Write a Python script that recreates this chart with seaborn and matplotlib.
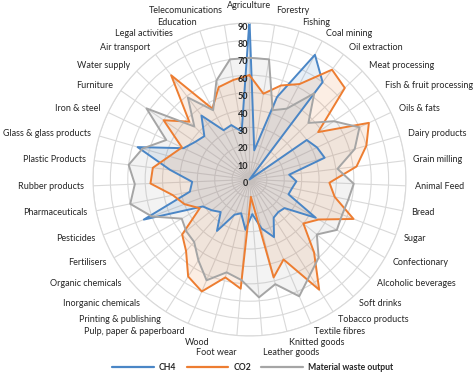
import numpy as np
import matplotlib
matplotlib.use("Agg")
import matplotlib.pyplot as plt
import matplotlib.transforms as mtransforms
import pandas as pd
import seaborn as sns
from matplotlib.lines import Line2D

categories = [
    "Agriculture", "Forestry", "Fishing", "Coal mining", "Oil extraction",
    "Meat processing", "Fish & fruit processing", "Oils & fats", "Dairy products",
    "Grain milling", "Animal Feed", "Bread", "Sugar", "Confectionary",
    "Alcoholic beverages", "Soft drinks", "Tobacco products", "Textile fibres",
    "Knitted goods", "Leather goods", "Foot wear", "Wood", "Pulp, paper & paperboard",
    "Printing & publishing", "Inorganic chemicals", "Organic chemicals", "Fertilisers",
    "Pesticides", "Pharmaceuticals", "Rubber products", "Plastic Products",
    "Glass & glass products", "Iron & steel", "Furniture", "Water supply",
    "Air transport", "Legal activities", "Education", "Telecomunications",
]

ch4 = [92, 17, 50, 81, 70, 0, 40, 43, 45, 23, 27, 25, 24, 44, 26, 25, 26, 36, 29,
       20, 29, 20, 22, 35, 25, 28, 31, 65, 35, 33, 46, 67, 42, 38, 36, 46, 32, 33, 28]
co2 = [60, 50, 57, 62, 79, 76, 48, 76, 70, 62, 46, 50, 64, 46, 40, 56, 75, 50, 58,
       10, 63, 58, 70, 66, 55, 50, 33, 40, 45, 57, 56, 48, 43, 60, 48, 75, 46, 56, 58]
waste = [70, 70, 42, 46, 62, 47, 59, 70, 63, 51, 60, 58, 57, 58, 50, 60, 65, 73, 62,
         68, 58, 55, 63, 55, 48, 47, 45, 60, 70, 66, 70, 64, 53, 72, 44, 59, 45, 60, 70]
ticks = [0, 10, 20, 30, 40, 50, 60, 70, 80, 90]

series = [("CH4", ch4, "#4a86c6"), ("CO2", co2, "#ed7d31"),
          ("Material waste output", waste, "#a5a5a5")]

sns.set_theme(style="white")
plt.rcParams["font.family"] = ["Lato", "DejaVu Sans"]

fig = plt.figure(figsize=(4.74, 3.73), dpi=100)
ax = fig.add_axes([0.1962, 0.0992, 0.6603, 0.8391], projection="polar")
ax.set_theta_zero_location("N")
ax.set_theta_direction(-1)

n = len(categories)
angles = np.arange(n) * 2 * np.pi / n

for name, vals, color in series:
    df = pd.DataFrame({"theta": np.append(angles, angles[0]),
                       "r": np.append(vals, vals[0])})
    ax.fill(df["theta"], df["r"], color=color, alpha=0.13, lw=0)
    sns.lineplot(data=df, x="theta", y="r", sort=False, ax=ax, color=color,
                 lw=1.4, estimator=None)

ax.set_ylim(0, 90)
ax.set_xticks(angles)
ax.set_xticklabels([])
ax.set_yticks(ticks)
ax.set_yticklabels([])
ax.set_xlabel("")
ax.set_ylabel("")
ax.grid(True, color="#d9d9d9", lw=0.8)
ax.spines["polar"].set_color("#d9d9d9")
ax.spines["polar"].set_linewidth(0.8)

# radial value labels along the top spoke
off = mtransforms.offset_copy(ax.transData, fig=fig, x=-1, y=-3, units="points")
for v in ticks:
    ax.text(0, v, str(v), transform=off, ha="right", va="center",
            fontsize=6.5, fontweight="bold", color="#262626")

# category labels round the outside
for a, lab in zip(angles, categories):
    s, c = np.sin(a), np.cos(a)
    ha = "left" if s > 0.05 else ("right" if s < -0.05 else "center")
    dy = np.sign(c) * max(0.0, (abs(c) - 0.96) / 0.04) * 6.5
    tr = mtransforms.offset_copy(ax.transData, fig=fig, x=0, y=dy, units="points")
    ax.text(a, 95, lab, transform=tr, ha=ha, va="center", fontsize=6.5,
            color="#262626")

handles = [Line2D([], [], color=col, lw=1.6) for _, _, col in series]
fig.legend(handles, [s[0] for s in series], loc="lower center",
           bbox_to_anchor=(0.533, -0.018), ncol=3, frameon=False, handlelength=4.8,
           handletextpad=0.6, columnspacing=1.2,
           prop={"weight": "bold", "size": 6.2})

fig.savefig("out.png", dpi=100)
